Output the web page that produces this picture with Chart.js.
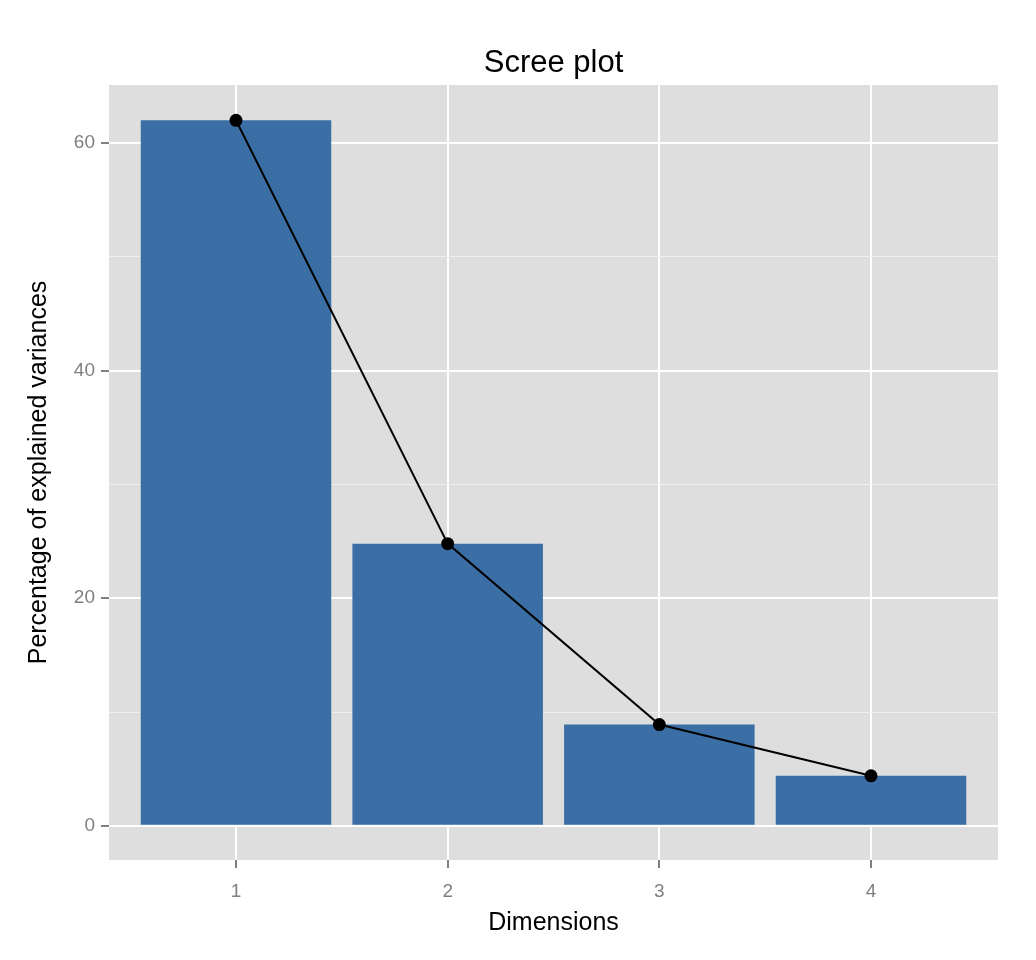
<!DOCTYPE html>
<html>
<head>
<meta charset="utf-8">
<script src="https://cdn.jsdelivr.net/npm/chart.js@4"></script>
<style>
  body { margin: 0; background: #fff; }
  #wrap { width: 1036px; height: 960px; }
</style>
</head>
<body>
<div id="wrap"><canvas id="scree"></canvas></div>
<script>
const dimensions = [1, 2, 3, 4];
const variances = [62.0, 24.8, 8.9, 4.4];
const yTicks = [0, 10, 20, 30, 40, 50, 60];

const barData = dimensions.map((d, i) => ({ x: d, y: variances[i] }));

// gray panel behind the plot + title centred on the panel
const panelPlugin = {
    id: 'panel',
    beforeDraw(chart) {
        const { ctx, chartArea: a } = chart;
        ctx.save();
        ctx.fillStyle = '#dedede';
        ctx.fillRect(a.left, a.top, a.right - a.left, a.bottom - a.top);
        ctx.restore();
    },
    afterDraw(chart) {
        const { ctx, chartArea: a } = chart;
        ctx.save();
        ctx.fillStyle = '#000';
        ctx.font = '31px "Liberation Sans", Arial, sans-serif';
        ctx.textAlign = 'center';
        ctx.textBaseline = 'middle';
        ctx.fillText('Scree plot', (a.left + a.right) / 2, 63);
        ctx.restore();
    }
};

const isMajor = v => v % 20 === 0;

new Chart(document.getElementById('scree'), {
    data: {
        datasets: [
            {
                type: 'line',
                data: barData,
                borderColor: '#000',
                borderWidth: 2,
                pointBackgroundColor: '#000',
                pointBorderColor: '#000',
                pointRadius: 5.5,
                order: 0
            },
            {
                type: 'bar',
                data: barData,
                backgroundColor: '#3a6ea5',
                barPercentage: 0.9,
                categoryPercentage: 1,
                order: 1
            }
        ]
    },
    options: {
        responsive: true,
        maintainAspectRatio: false,
        animation: false,
        layout: { padding: { top: 85, right: 38, left: 0, bottom: 0 } },
        plugins: { legend: { display: false }, tooltip: { enabled: false }, title: { display: false } },
        scales: {
            x: {
                type: 'linear',
                min: 0.4,
                max: 4.6,
                offset: false,
                afterBuildTicks: s => { s.ticks = dimensions.map(v => ({ value: v })); },
                afterFit: s => { s.height = 100; },
                grid: { offset: false, color: '#ffffff', lineWidth: 2, tickColor: '#7f7f7f', tickLength: 8 },
                border: { display: false },
                ticks: { color: '#7f7f7f', font: { size: 19, family: 'Liberation Sans' }, padding: 12 },
                title: { display: true, text: 'Dimensions', color: '#000', font: { size: 25, family: 'Liberation Sans' }, padding: { top: 0, bottom: 22 } }
            },
            y: {
                min: -3,
                max: 65.1,
                afterBuildTicks: s => { s.ticks = yTicks.map(v => ({ value: v })); },
                afterFit: s => { s.width = 109; },
                grid: {
                    color: c => isMajor(c.tick.value) ? '#ffffff' : '#efefef',
                    lineWidth: c => isMajor(c.tick.value) ? 2 : 1,
                    tickColor: c => isMajor(c.tick.value) ? '#7f7f7f' : 'rgba(0,0,0,0)',
                    tickLength: 8
                },
                border: { display: false },
                ticks: {
                    color: '#7f7f7f',
                    font: { size: 19, family: 'Liberation Sans' },
                    padding: 6,
                    callback: v => isMajor(v) ? v : ''
                },
                title: { display: true, text: 'Percentage of explained variances', color: '#000', font: { size: 25, family: 'Liberation Sans' }, padding: { top: 24 } }
            }
        }
    },
    plugins: [panelPlugin]
});
</script>
</body>
</html>
